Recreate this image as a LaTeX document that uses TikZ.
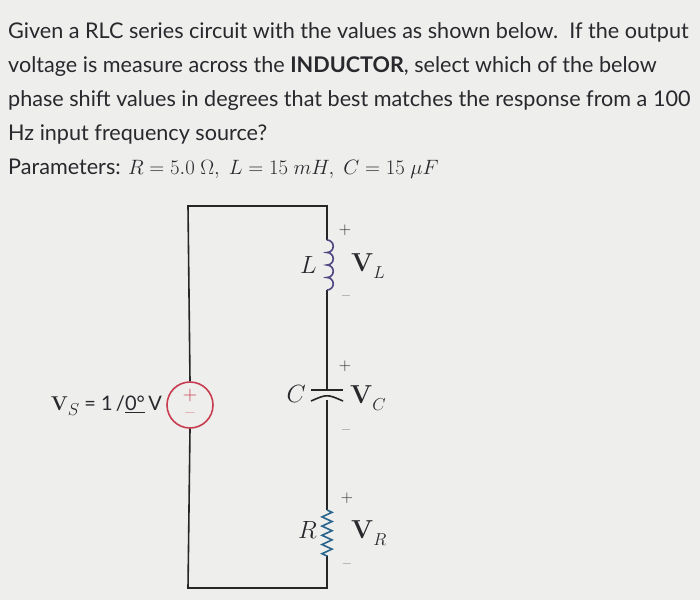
\documentclass[tikz,border=0pt]{standalone}
\usepackage{fontspec}
\setmainfont{Lato}
\newfontfamily\lmr[Ligatures=TeX]{Latin Modern Roman}
\usetikzlibrary{decorations.pathmorphing}
\definecolor{bg}{RGB}{238,238,236}
\definecolor{txt}{RGB}{40,40,45}
\definecolor{src}{RGB}{200,60,80}
\definecolor{ind}{RGB}{80,70,130}
\definecolor{res}{RGB}{40,100,140}
\newcommand{\bV}{{\lmr\bfseries V}}
\newcommand{\sbs}[1]{\raisebox{-0.25em}{\fontsize{18}{18}\selectfont$#1$}}
\begin{document}
\begin{tikzpicture}[x=1pt,y=-1pt,
  line/.style={anchor=base west,inner sep=0,text=txt,font=\fontsize{21.6}{30}\selectfont},
  wire/.style={draw=black!85,line width=1.6pt},
  lab/.style={font=\fontsize{26}{28}\selectfont,text=txt,inner sep=1pt},
  pm/.style={font=\fontsize{17}{18}\selectfont\lmr,text=txt,inner sep=0}]
\fill[bg] (0,0) rectangle (700,600);
\useasboundingbox (0,0) rectangle (700,600);
\node[line] (t1) at (8,38) {Given a RLC series circuit with the values as shown below.\ \ If the output};
\node[line] (t2) at (8,72) {voltage is measure across the \textbf{INDUCTOR}, select which of the below};
\node[line] (t3) at (8,106) {phase shift values in degrees that best matches the response from a 100};
\node[line] (t4) at (8,140) {Hz input frequency source?};
\node[line] (t5) at (8,174) {Parameters: $R=5.0\ \Omega,\ L=15\ mH,\ C=15\ \mu F$};
\coordinate (tl) at (188,206);
\coordinate (tr) at (327,206);
\coordinate (bl) at (188,588);
\coordinate (br) at (327,588);
\coordinate (Lt) at (327,240);
\coordinate (Lb) at (327,290);
\coordinate (Ct) at (327,390);
\coordinate (Cb) at (327,400);
\coordinate (Rt) at (327,510);
\coordinate (Rb) at (327,556);
\node[circle,draw=src,line width=1.6pt,minimum size=46pt,inner sep=0] (S) at (190,405) {};
\node[font=\fontsize{20}{20}\selectfont\lmr,text=src,inner sep=0] at (190,396) {+};
\node[font=\fontsize{20}{20}\selectfont\lmr,text=src,inner sep=0] at (190,416) {–};
\draw[wire] (S.north) -- (tl) -- (tr) -- (Lt);
\draw[wire] (S.south) -- (bl) -- (br) -- (Rb);
\draw[wire] (Lb) -- (Ct);
\draw[wire] (Cb) -- (Rt);
\draw[ind,line width=1.6pt] (Lt) \foreach \i in {0,1,2,3}{ arc[start angle=-90,end angle=90,radius=6.25] };
\draw[wire] (311,390) -- (343,390);
\draw[wire] (311,401) .. controls (327,394) .. (343,401);
\draw[res,line width=1.6pt,decorate,decoration={zigzag,segment length=9.2pt,amplitude=5pt}] (Rt) -- (Rb);
\node[lab,anchor=east] (Ll) at (318,265) {$L$};
\node[lab,anchor=west] (VL) at (350,266) {\bV\sbs{L}};
\node[pm] at (345,230) {+};
\node[pm] at (346,298) {–};
\node[lab,anchor=east] (Cl) at (307,394) {$C$};
\node[lab,anchor=west] (VC) at (349,398) {\bV\sbs{C}};
\node[pm] at (345,366) {+};
\node[pm] at (346,432) {–};
\node[lab,anchor=east] (Rl) at (318,530) {$R$};
\node[lab,anchor=west] (VR) at (350,533) {\bV\sbs{R}};
\node[pm] at (347,498) {+};
\node[pm] at (347,566) {–};
\node[anchor=east,text=txt,font=\fontsize{20}{22}\selectfont,inner sep=0] (VS) at (162,406) {\bV\sbs{S} = 1\,/\underline{0°}\,V};
\end{tikzpicture}
\end{document}
